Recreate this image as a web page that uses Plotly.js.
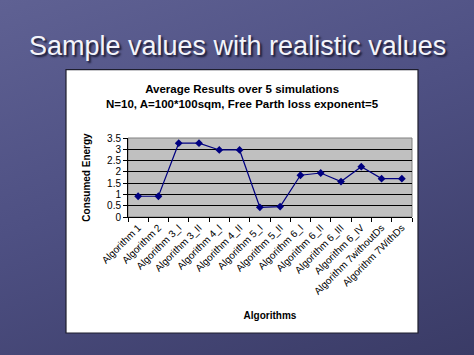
<!DOCTYPE html>
<html>
<head>
<meta charset="utf-8">
<script src="https://cdn.plot.ly/plotly-3.0.1.min.js"></script>
<style>
html,body{margin:0;padding:0;width:474px;height:355px;overflow:hidden;
background:linear-gradient(160deg,#5f6193 0%,#4e5083 45%,#3a3b66 100%);}
#chart{width:474px;height:355px;}
</style>
</head>
<body>
<div id="chart"></div>
<script>
const categories = ["Algorithm 1","Algorithm 2","Algorithm 3_I","Algorithm 3_II","Algorithm 4_I","Algorithm 4_II","Algorithm 5_I","Algorithm 5_II","Algorithm 6_I","Algorithm 6_II","Algorithm 6_III","Algorithm 6_IV","Algorithm 7withoutDs","Algorithm 7WithDs"];
const energy = [0.92, 0.92, 3.27, 3.27, 2.97, 2.97, 0.43, 0.46, 1.85, 1.95, 1.57, 2.23, 1.7, 1.7];
const yTicks = [0, 0.5, 1, 1.5, 2, 2.5, 3, 3.5];

const F = "Liberation Sans, Arial, sans-serif";
const trace = {
  type: "scatter", mode: "lines+markers",
  x: categories, y: energy,
  line: {color: "#000080", width: 1.2},
  marker: {symbol: "diamond", size: 6, color: "#000080"},
  hoverinfo: "x+y"
};
const L = 128, R = 412, T = 137.5, B = 216.7, W = 474, H = 355;
const pw = R - L, ph = B - T;
const px = v => (v - L) / pw;
const py = v => (B - v) / ph;
const layout = {
  width: W, height: H,
  margin: {l: L, r: W - R, t: T, b: H - B, pad: 0},
  paper_bgcolor: "rgba(0,0,0,0)",
  plot_bgcolor: "rgba(0,0,0,0)",
  showlegend: false,
  font: {family: F, size: 10, color: "#000"},
  xaxis: {
    type: "category", range: [-0.5, categories.length - 0.5],
    tickson: "boundaries", ticks: "outside", ticklen: 4, tickcolor: "#000",
    tickangle: -45, tickfont: {size: 10, family: F},
    showline: true, linecolor: "#000", linewidth: 1, showgrid: false,
    zeroline: false,
    title: {text: "<b>Algorithms</b>", font: {size: 10, family: F}, standoff: 16}
  },
  yaxis: {
    range: [0, 3.5], tickvals: yTicks, ticks: "outside", ticklen: 4, tickcolor: "#000",
    tickfont: {size: 10, family: F},
    showline: true, linecolor: "#000", linewidth: 1,
    showgrid: true, gridcolor: "#000", gridwidth: 1, zeroline: false,
    title: {text: "<b>Consumed Energy</b>", font: {size: 10, family: F}, standoff: 14}
  },
  shapes: [
    {type: "rect", xref: "paper", yref: "paper", layer: "below",
     x0: px(66), x1: px(418), y0: py(333), y1: py(69),
     fillcolor: "#ffffff", line: {color: "#1e1e2e", width: 1.2}},
    {type: "rect", xref: "paper", yref: "paper", layer: "below",
     x0: 0, x1: 1, y0: 0, y1: 1,
     fillcolor: "#c0c0c0", line: {color: "#808080", width: 1}}
  ],
  annotations: [
    {text: "Sample values with realistic values", xref: "paper", yref: "paper",
     x: px(237), y: py(45), xanchor: "center", yanchor: "middle", showarrow: false,
     font: {family: F, size: 27, color: "#f4f4fa", shadow: "2px 2px 2px #1a1a33"}},
    {text: "<b>Average Results over 5 simulations</b><br><b>N=10, A=100*100sqm, Free Parth loss exponent=5</b>",
     xref: "paper", yref: "paper", x: px(242.5), y: py(96), xanchor: "center", yanchor: "middle",
     showarrow: false, align: "center",
     font: {family: F, size: 11.5, color: "#000"}}
  ]
};
Plotly.newPlot("chart", [trace], layout, {displayModeBar: false, staticPlot: true});
</script>
</body>
</html>
